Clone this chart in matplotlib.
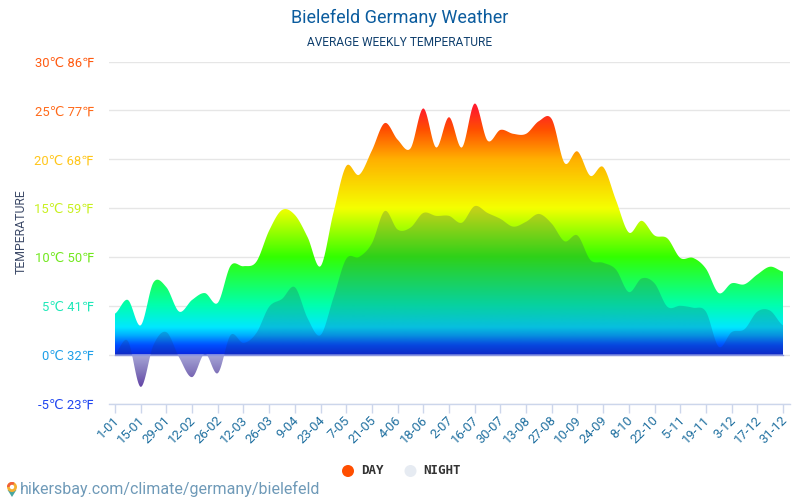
import numpy as np
import matplotlib
matplotlib.use('Agg')
import matplotlib.pyplot as plt
from matplotlib.colors import LinearSegmentedColormap
from matplotlib.patches import Polygon, Circle, Wedge
from matplotlib.transforms import ScaledTranslation

# ==================== Data ====================

WEEK_LABELS = ['1-01', '15-01', '29-01', '12-02', '26-02', '12-03', '26-03', '9-04', '23-04',
               '7-05', '21-05', '4-06', '18-06', '2-07', '16-07', '30-07', '13-08', '27-08',
               '10-09', '24-09', '8-10', '22-10', '5-11', '19-11', '3-12', '17-12', '31-12']

DAY_TEMP = [4.2, 5.6, 3.0, 7.4, 6.9, 4.4, 5.6, 6.3, 5.3, 9.1, 9.05, 9.5, 12.7, 14.8, 14.3, 12.0,
            9.05, 14.5, 19.3, 18.4, 20.9, 23.7, 22.0, 21.1, 25.2, 21.2, 24.3, 21.2, 25.7, 21.9,
            23.0, 22.6, 22.6, 23.9, 24.1, 19.6, 20.8, 18.3, 19.2, 15.8, 12.5, 13.7, 12.2, 11.9,
            9.9, 9.9, 8.8, 6.3, 7.3, 7.2, 8.2, 9.0, 8.5]

NIGHT_TEMP = [0.1, 1.4, -3.3, 1.0, 2.3, -0.3, -2.3, 0.1, -1.9, 2.0, 1.2, 2.2, 4.9, 5.7, 6.9, 3.7,
              2.0, 5.8, 9.8, 10.0, 11.4, 14.7, 12.8, 13.0, 14.5, 14.2, 14.2, 13.5, 15.2, 14.5,
              13.9, 13.1, 13.6, 14.4, 13.4, 11.6, 12.2, 9.7, 9.4, 8.7, 6.4, 7.8, 7.3, 4.9,
              5.0, 4.8, 4.4, 0.8, 2.3, 2.6, 4.4, 4.5, 3.0]

Y_TICKS = [-5, 0, 5, 10, 15, 20, 25, 30]
Y_LABELS = ['-5℃ 23℉', '0℃ 32℉', '5℃ 41℉', '10℃ 50℉', '15℃ 59℉', '20℃ 68℉', '25℃ 77℉', '30℃ 86℉']
Y_COLORS = ['#1f45f0', '#1f9fe8', '#1fe8b8', '#72e81f', '#c8f020', '#ffc61a', '#ff6a1a', '#ff5a10']

# ==================== Helpers ====================

def smooth(x, y, n=16):
    """Catmull-Rom curve through the points, only for drawing."""
    x, y = np.asarray(x, float), np.asarray(y, float)
    py = np.r_[y[0], y, y[-1]]
    xs, ys = [], []
    for i in range(len(x) - 1):
        t = np.linspace(0, 1, n, endpoint=False)
        p0, p1, p2, p3 = py[i], py[i + 1], py[i + 2], py[i + 3]
        ys.append(0.5 * (2 * p1 + (p2 - p0) * t + (2 * p0 - 5 * p1 + 4 * p2 - p3) * t ** 2
                         + (3 * p1 - p0 - 3 * p2 + p3) * t ** 3))
        xs.append(x[i] + (x[i + 1] - x[i]) * t)
    return np.r_[np.concatenate(xs), x[-1]], np.r_[np.concatenate(ys), y[-1]]


def gradient_fill(ax, xs, ys, cmap, y0, y1, alpha=1.0, zorder=2):
    grad = np.linspace(0, 1, 512).reshape(-1, 1)
    im = ax.imshow(grad, extent=(xs[0], xs[-1], y0, y1), origin='lower', aspect='auto',
                   cmap=cmap, alpha=alpha, zorder=zorder, interpolation='bilinear')
    poly = Polygon(np.c_[np.r_[xs[0], xs, xs[-1]], np.r_[0, ys, 0]], closed=True,
                   transform=ax.transData, facecolor='none', edgecolor='none')
    ax.add_patch(poly)
    im.set_clip_path(poly)

# ==================== Figure ====================

plt.rcParams['font.family'] = ['Roboto', 'DejaVu Sans']

fig = plt.figure(figsize=(8, 5), dpi=100)
ax = fig.add_axes([109 / 800, 1 - 403.5 / 500, (790 - 109) / 800, (403.5 - 61.5) / 500])

weeks = np.arange(len(DAY_TEMP))
x_day, y_day = smooth(weeks, DAY_TEMP)
x_night, y_night = smooth(weeks, NIGHT_TEMP)

day_cmap = LinearSegmentedColormap.from_list('day', [
    (0.0, '#0a28e0'), (1.0 / 30, '#0050ff'), (2.0 / 30, '#00b0ff'), (2.8 / 30, '#00e8ff'),
    (5.0 / 30, '#00ffb0'), (10.0 / 30, '#33ff00'), (15.0 / 30, '#f5ff00'), (20.0 / 30, '#ffb000'),
    (23.0 / 30, '#ff5000'), (25.0 / 30, '#ff2028'), (1.0, '#ff0050')])
neg_cmap = LinearSegmentedColormap.from_list('neg', ['#6040a4', '#8478bc', '#a8a8d8'])
night_cmap = LinearSegmentedColormap.from_list('night', ['#203070', '#203070'])

gradient_fill(ax, x_day, np.clip(y_day, 0, None), day_cmap, 0, 30)
gradient_fill(ax, x_night, np.clip(y_night, 0, None), night_cmap, 0, 30, alpha=0.22, zorder=3)
gradient_fill(ax, x_night, np.clip(y_night, None, 0), neg_cmap, -3.4, 0, zorder=3)
ax.plot([0, weeks[-1]], [0, 0], color='#8c96e0', lw=1, zorder=4)

week_px = (783 - 115) / weeks[-1]
ax.set_xlim(-6 / week_px, weeks[-1] + 7 / week_px)
ax.set_ylim(-5, 30)

for s in ax.spines.values():
    s.set_visible(False)
ax.spines['bottom'].set_visible(True)
ax.spines['bottom'].set_color('#ccd6eb')
ax.spines['bottom'].set_linewidth(1)

ax.set_yticks(Y_TICKS)
ax.set_yticklabels(Y_LABELS, fontsize=9.4)
for lab, c in zip(ax.get_yticklabels(), Y_COLORS):
    lab.set_color(c)
ax.tick_params(axis='y', length=0, pad=10.8)
ax.grid(axis='y', color='#e6e6e6', lw=1, zorder=0)
ax.set_axisbelow(True)

ax.set_xticks(weeks[::2])
ax.set_xticklabels(WEEK_LABELS, rotation=45, ha='right', rotation_mode='anchor',
                   fontsize=9.4, color='#2070a0')
ax.tick_params(axis='x', length=6.5, width=1, color='#ccd6eb', pad=1)
left = ScaledTranslation(-2.5 / 100, 0, fig.dpi_scale_trans)
for lab in ax.get_xticklabels():
    lab.set_transform(lab.get_transform() + left)

fig.text(21 / 800, 1 - 232 / 500, 'TEMPERATURE', rotation=90, ha='center', va='center',
         fontsize=8.8, color='#3d4a68')
fig.text(400 / 800, 1 - 18 / 500, 'Bielefeld Germany Weather', ha='center', va='center',
         fontsize=13, color='#0b5c9e')
fig.text(400 / 800, 1 - 42 / 500, 'AVERAGE WEEKLY TEMPERATURE', ha='center', va='center',
         fontsize=8.6, color='#10406e')

# legend
overlay = fig.add_axes([0, 0, 1, 1], facecolor='none')
overlay.set_xlim(0, 800)
overlay.set_ylim(500, 0)
overlay.axis('off')
overlay.add_patch(Circle((348, 471), 6, color='#ff4e00', lw=0))
overlay.add_patch(Circle((410.5, 471), 6, color='#e6ebf2', lw=0))
overlay.text(361, 471, 'DAY', family='DejaVu Sans Mono', weight='bold', fontsize=9,
             va='center', color='#333333')
overlay.text(423.5, 471, 'NIGHT', family='DejaVu Sans Mono', weight='bold', fontsize=9,
             va='center', color='#333333')

# pin and source line
overlay.add_patch(Polygon([[7.6, 490], [16.4, 490], [12, 497]], closed=True, color='#4aa6a0', lw=0))
overlay.add_patch(Circle((12, 487), 5, color='#f5b030', lw=0))
overlay.add_patch(Wedge((12, 487), 5, 180, 300, color='#f0603a', lw=0))
overlay.add_patch(Circle((12, 487), 2.2, color='white', lw=0))
overlay.text(20, 489, 'hikersbay.com/climate/germany/bielefeld', fontsize=11.5, va='center',
             color='#6f9ab8')

fig.savefig('out.png', dpi=100)
